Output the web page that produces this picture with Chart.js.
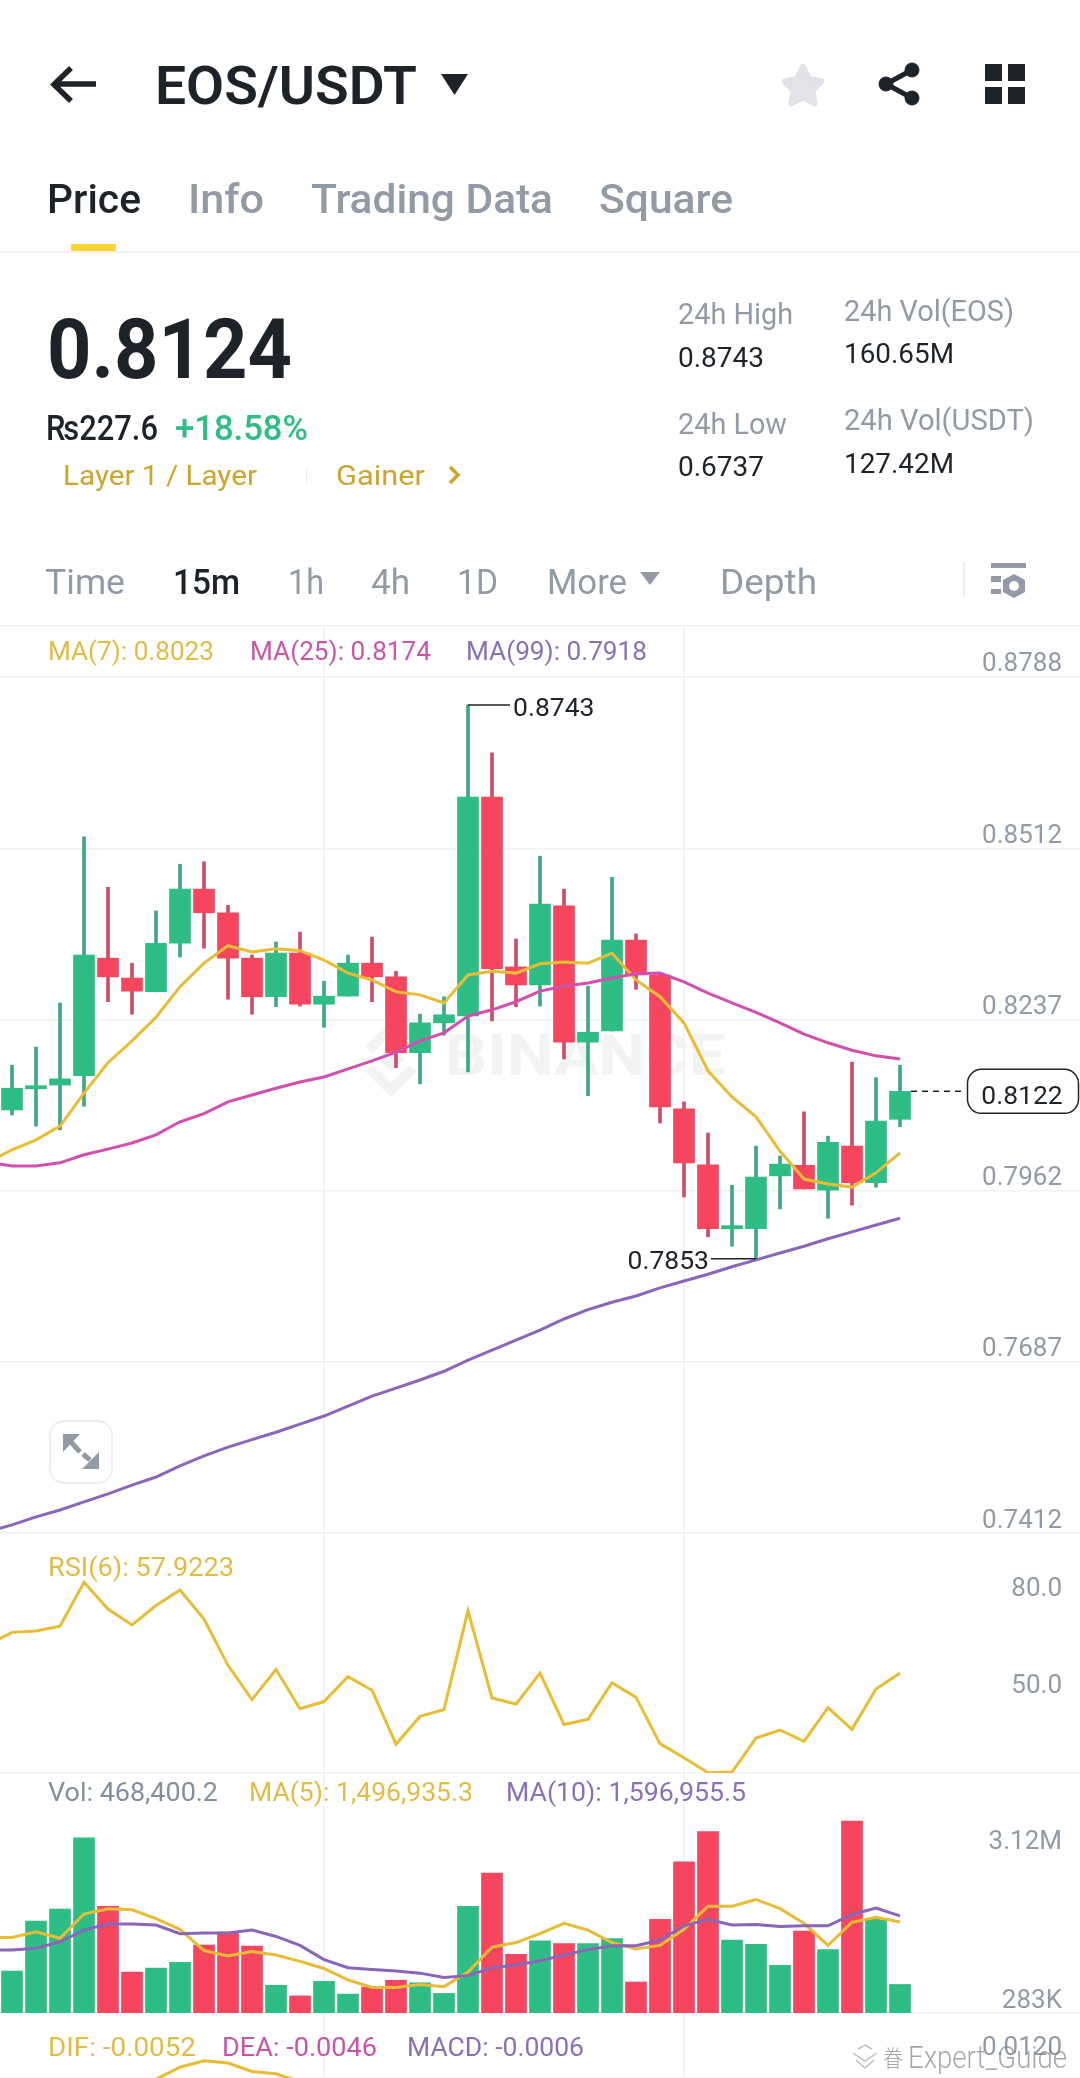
<!DOCTYPE html>
<html><head><meta charset="utf-8">
<script src="https://cdn.jsdelivr.net/npm/chart.js@4"></script>
<style>
html,body{margin:0;padding:0;background:#fff;}
#root{position:relative;isolation:isolate;width:1080px;height:2078px;overflow:hidden;background:#fff;font-family:Roboto,"Noto Sans",sans-serif;}
canvas{position:absolute;left:-24px;display:block;}
.t{position:absolute;white-space:nowrap;line-height:1;transform-origin:0 50%;}
svg{position:absolute;left:0;top:0;}
</style></head><body>
<div id="root">
<svg width="1080" height="2078" id="under">
  <g fill="#F2F3F4" transform="translate(391 1059) rotate(45)">
    <rect x="-9" y="-9" width="18" height="18"/>
    <path d="M-27 -27H9V-17H-17V9H-27Z"/>
    <path d="M27 27H-9V17H17V-9H27Z"/>
  </g>
</svg>
<canvas id="cPrice" style="top:626px" width="1104" height="909"></canvas>
<canvas id="cRsi" style="top:1533px" width="1104" height="242"></canvas>
<canvas id="cVol" style="top:1773px" width="1104" height="242"></canvas>
<canvas id="cMacd" style="top:2013px" width="1104" height="65"></canvas>
<svg width="1080" height="2078" id="over">
  <path d="M96 84H56M71 68L54 84.500L71 101" fill="none" stroke="#1E2329" stroke-width="5.500"/>
  <path d="M441 74H468L454.500 95Z" fill="#1E2329"/>
  <path d="M803 66L809.500 78.500L822 81L813 91L815 104L803 98L791 104L793 91L784 81L796.500 78.500Z" fill="#E1E3E8" stroke="#E1E3E8" stroke-width="5" stroke-linejoin="round"/>
  <g fill="#1E2329" stroke="#1E2329"><circle cx="912" cy="70" r="7"/><circle cx="886" cy="84" r="7"/><circle cx="912" cy="98" r="7"/><path d="M912 70L886 84L912 98" fill="none" stroke-width="5"/></g>
  <g fill="#1E2329"><rect x="985" y="64" width="17" height="17"/><rect x="1008" y="64" width="17" height="17"/><rect x="985" y="87" width="17" height="17"/><rect x="1008" y="87" width="17" height="17"/></g>
  <rect x="71" y="244" width="45" height="8" fill="#FCD535"/>
  <rect x="0" y="251" width="1080" height="2" fill="#EEF0F2"/>
  <path d="M450 467L458 475L450 483" fill="none" stroke="#CDA52C" stroke-width="3.500"/>
  <rect x="306" y="468" width="1" height="14" fill="#E6E8EA"/>
  <path d="M640 572H660L650 585Z" fill="#929AA5"/>
  <rect x="963" y="562" width="2" height="35" fill="#ECEEF0"/>
  <g fill="#929AA5"><rect x="991" y="563" width="35" height="5"/><rect x="991" y="576" width="10" height="6"/><rect x="991" y="589" width="10" height="5"/>
    <path fill-rule="evenodd" d="M1014 574L1025 580V592L1014 598L1003 592V580ZM1014 581A5 5 0 1 0 1014 591A5 5 0 1 0 1014 581Z"/></g>
  <rect x="0" y="625" width="1080" height="1.500" fill="#EEF0F2"/>
  <rect x="50" y="1421" width="62" height="62" rx="14" fill="#fff" stroke="#ECEDEF" stroke-width="2"/>
  <g fill="#929AA5"><path d="M63 1434H80L63 1452Z"/><path d="M99 1469H82L99 1452Z"/></g>
  <path d="M71 1442L80 1452M90 1460L83 1454" stroke="#929AA5" stroke-width="5" fill="none"/>
  <g fill="none" stroke="#BDBDBD" stroke-width="1.500"><path d="M853 2053L865 2061L877 2053M858 2049L865 2045L872 2049M856 2060L865 2068L874 2060"/></g>
</svg>
<div id="texts"></div>
</div>
<script>
// ---- chart data ----
const slots = Array.from({length:46},(_,i)=>i-1);   // -1 is the candle just off the left edge
const opens  = [.8092,.8126,.8132,.8147,.8336,.8304,.8282,.8360,.8447,.8409,.8336,.8274,.8344,.8262,.8275,.8328,.8306,.8184,.8232,.8243,.8595,.8322,.8293,.8420,.8201,.8219,.8365,.8309,.8094,.8004,.7901,.7901,.7986,.8003,.7963,.8034,.7975,.8077];
const highs  = [.8164,.8193,.8264,.8531,.8450,.8328,.8412,.8487,.8491,.8421,.8341,.8362,.8378,.8299,.8341,.8370,.8315,.8246,.8274,.8743,.8666,.8367,.8500,.8447,.8291,.8466,.8375,.8312,.8105,.8055,.7971,.8034,.8018,.8089,.8050,.8169,.8144,.8164];
const lows   = [.8084,.8066,.8060,.8098,.8266,.8246,.8282,.8338,.8352,.8270,.8246,.8258,.8259,.8225,.8275,.8266,.8160,.8134,.8212,.8153,.8235,.8258,.8259,.8174,.8115,.8219,.8286,.8071,.7952,.7888,.7873,.7853,.7933,.7965,.7918,.7939,.7968,.8065];
const closes = [.8127,.8131,.8142,.8341,.8306,.8283,.8360,.8447,.8409,.8336,.8274,.8344,.8262,.8275,.8328,.8306,.8184,.8232,.8245,.8595,.8319,.8293,.8423,.8201,.8217,.8365,.8309,.8097,.8007,.7901,.7906,.7984,.8005,.7965,.8040,.7975,.8074,.8122];
const ma7  = [.8008,.8028,.8044,.8066,.8119,.8168,.8203,.8241,.8290,.8328,.8356,.8346,.8351,.8348,.8333,.8312,.8301,.8282,.8277,.8264,.8309,.8315,.8312,.8327,.8330,.8328,.8344,.8301,.8274,.8232,.8155,.8113,.8081,.8026,.7981,.7973,.7968,.7991,.8023];
const ma25 = [.8008,.8002,.8002,.8007,.8020,.8029,.8039,.8052,.8073,.8086,.8105,.8116,.8127,.8137,.8145,.8158,.8171,.8185,.8203,.8216,.8243,.8253,.8266,.8283,.8291,.8296,.8304,.8311,.8312,.8298,.8280,.8264,.8249,.8232,.8214,.8200,.8188,.8179,.8174];
const ma99 = [.7414,.7425,.7438,.7449,.7462,.7475,.7489,.7502,.7520,.7536,.7550,.7562,.7574,.7587,.7600,.7616,.7632,.7645,.7658,.7672,.7690,.7706,.7722,.7738,.7756,.7771,.7783,.7793,.7806,.7817,.7828,.7840,.7851,.7862,.7873,.7885,.7896,.7907,.7918];
const rsi6 = [66.7,70.5,70.9,72.4,86.0,77.7,72.8,78.8,83.6,74.6,60.3,49.7,59.0,46.9,49.1,56.8,52.6,35.9,44.5,46.6,77.2,50.2,48.3,57.9,42.0,43.6,54.9,50.4,36.1,31.7,27.1,27.3,37.8,40.3,36.8,47.2,40.5,53.0,57.9223];
const volumes = [690000,1509000,1708000,2878000,1755000,673000,737000,831000,1117000,1328000,1100000,456000,281000,521000,310000,427000,538000,497000,322000,1755000,2299000,965000,1187000,1141000,1141000,1222000,509000,1538000,2486000,2983000,1199000,1129000,784000,1345000,1041000,3153000,1550000,468400];
const volMa5  = [1240000,1240000,1334000,1228000,1626000,1714000,1696000,1550000,1375000,1024000,936000,1012000,953000,848000,731000,544000,421000,421000,468000,433000,673000,1082000,1158000,1304000,1474000,1363000,1158000,1053000,1111000,1375000,1755000,1755000,1866000,1714000,1474000,1111000,1491000,1573000,1496935];
const volMa10 = [1035000,1035000,1065000,1170000,1363000,1462000,1462000,1445000,1304000,1316000,1316000,1363000,1258000,1111000,877000,743000,714000,690000,655000,585000,614000,743000,790000,860000,953000,1041000,1105000,1105000,1199000,1433000,1538000,1445000,1456000,1421000,1433000,1433000,1620000,1725000,1596955];
const dif = [null,null,null,null,null,null,.0073,.0091,.0111,.0122,.0118,.0104,.0100,.0087,.0070];
const priceTicks = [.8788,.8512,.8237,.7962,.7687,.7412];
const rsiTicks = [80,50];
const macdTicks = [.0120];
const gridSlots = [13,28];
const lastPrice = .8122, highPrice = .8743, lowPrice = .7853, highSlot = 19, lowSlot = 31;

const GREEN='#2EBD85', RED='#F6465D', GREENW='#3DA883', REDW='#CE4E69';
const YEL='#E8BC35', PINK='#D24FB0', PUR='#8B66B8', GRID='#F0F1F3', TICK='#929AA5', DARK='#1E2329';
const pad = a => [null,...a];
const up = opens.map((o,i)=>closes[i]>=o);
const bodyCol = pad(up.map(u=>u?GREEN:RED));
const wickCol = pad(up.map(u=>u?GREENW:REDW));
const lineDs = (data,color,w=3,order=1,yAxisID='y') => ({type:'line',data,borderColor:color,borderWidth:w,pointRadius:0,tension:0,fill:false,order,yAxisID,spanGaps:false});

Chart.defaults.font.family='Roboto';
function xScale(){return {type:'category',offset:true,
  grid:{display:true,offset:false,color:GRID,lineWidth:1.5,drawTicks:false},
  border:{display:true,color:GRID,width:1.5},
  ticks:{display:false,autoSkip:false},
  afterBuildTicks:s=>{s.ticks=s.ticks.filter(t=>gridSlots.includes(s.getLabelForValue(t.value)));},
  afterFit:s=>{s.height=0;}};}
function yScale(min,max,ticks,fmt,off,showGrid){return {type:'linear',position:'right',min,max,
  grid:{display:showGrid,color:GRID,lineWidth:1.5,drawTicks:false},border:{display:false},
  ticks:{mirror:true,padding:-18,labelOffset:off,color:TICK,font:{size:26},callback:fmt},
  afterBuildTicks:s=>{s.ticks=ticks.map(v=>({value:v}));},
  afterFit:s=>{s.width=0;}};}
function build(id,datasets,yScales,bottom,plugins=[]){
  return new Chart(document.getElementById(id),{type:'bar',data:{labels:slots,datasets},
    plugins,
    options:{responsive:false,animation:false,devicePixelRatio:1,events:[],
      layout:{padding:{left:0,right:0,top:0,bottom}},
      plugins:{legend:{display:false},tooltip:{enabled:false}},
      scales:Object.assign({x:xScale()},yScales)}});
}

const pxPerUnit = 6221;
const priceLabels = {id:'priceLabels',afterDatasetsDraw(c){
  const g=c.ctx,x=c.scales.x,y=c.scales.y,dx=24;
  g.save();g.font='26.5px Roboto';g.fillStyle=DARK;g.strokeStyle=DARK;g.lineWidth=1.5;g.textBaseline='middle';
  const hx=x.getPixelForValue(highSlot+1),hy=y.getPixelForValue(highPrice);
  g.beginPath();g.moveTo(hx,hy);g.lineTo(510+dx,hy);g.stroke();
  g.textAlign='left';g.fillText(highPrice.toFixed(4),513+dx,hy+4);
  const lx=x.getPixelForValue(lowSlot+1),ly=y.getPixelForValue(lowPrice);
  g.beginPath();g.moveTo(lx,ly);g.lineTo(711+dx,ly);g.stroke();
  g.textAlign='right';g.fillText(lowPrice.toFixed(4),709+dx,ly+4);
  const py=y.getPixelForValue(lastPrice);
  g.setLineDash([6,5]);g.beginPath();g.moveTo(911+dx,py);g.lineTo(964+dx,py);g.stroke();g.setLineDash([]);
  g.beginPath();g.roundRect(967.5+dx,py-22,111,44,14);g.fillStyle='#fff';g.fill();g.stroke();
  g.fillStyle=DARK;g.textAlign='center';g.fillText(lastPrice.toFixed(4),1022+dx,py+6);
  g.restore();
}};

build('cPrice',[
  {data:pad(lows.map((l,i)=>[l,highs[i]])),backgroundColor:wickCol,barThickness:3,grouped:false,order:3,borderSkipped:false},
  {data:pad(opens.map((o,i)=>[o,closes[i]])),backgroundColor:bodyCol,barThickness:21,grouped:false,order:2,borderSkipped:false},
  lineDs(ma99,PUR),lineDs(ma25,PINK),lineDs(ma7,YEL)
],{y:yScale(.7412,.7412+907/pxPerUnit,priceTicks,v=>v.toFixed(4),-12,true)},2,[priceLabels]);

build('cRsi',[lineDs(rsi6,YEL)],{y:yScale(27,27+240/3.233,rsiTicks,v=>v.toFixed(1),-12,false)},2);

const volMax=240*16435;
const volFmt=v=>v>=1e6?(v/1e6).toFixed(2)+'M':Math.round(v/1e3)+'K';
build('cVol',[
  {data:pad(volumes),backgroundColor:bodyCol,barThickness:21,grouped:false,order:2},
  lineDs(volMa10,PUR),lineDs(volMa5,YEL)
],{y:yScale(0,volMax,[283000],volFmt,6,false),y2:yScale(0,volMax,[3120000],volFmt,19,false)},2);

build('cMacd',[lineDs(dif,YEL)],{y:yScale(.0093,.0202,macdTicks,v=>v.toFixed(4),-13,false)},0);

// ---- page text: [text, x, centre y, font size, colour, weight, width] ----
const G='#929AA5',D=DARK,Y2='#CDA52C',LY='#E0BC47',LP='#C955AA',LU='#8A70B5';
const texts=[
 ['EOS/USDT',155,86,53,D,600,262],
 ['Price',47,199,41,D,500,94],['Info',188,199,41,G,500,76],['Trading Data',311,199,41,G,500,242],['Square',599,199,41,G,500,134],
 ['0.8124',47,350,84,D,700,245],
 ['₨227.6',46,428,35,D,500,112],['+18.58%',175,428,35,GREEN,500,133],
 ['Layer 1 / Layer',63,476,28,Y2,400,194],['Gainer',336,476,28,Y2,400,89],
 ['24h High',678,314,29,G,400,115],['0.8743',678,358,28,D,400,86],
 ['24h Vol(EOS)',844,311,29,G,400,170],['160.65M',844,354,28,D,400,110],
 ['24h Low',678,424,29,G,400,109],['0.6737',678,467,28,D,400,86],
 ['24h Vol(USDT)',844,420,29,G,400,190],['127.42M',844,464,28,D,400,110],
 ['Time',45,582,35,G,400,80],['15m',173,582,35,D,500,67],['1h',288,582,35,G,400,36],['4h',371,582,35,G,400,39],['1D',457,582,35,G,400,41],['More',547,582,35,G,400,80],['Depth',720,582,35,G,400,97],
 ['MA(7): 0.8023',48,651,26,LY,400,166],['MA(25): 0.8174',250,651,26,LP,400,181],['MA(99): 0.7918',466,651,26,LU,400,181],
 ['RSI(6): 57.9223',48,1567,26,LY,400,186],
 ['Vol: 468,400.2',48,1792,26,'#848E9C',400,170],['MA(5): 1,496,935.3',249,1792,26,LY,400,224],['MA(10): 1,596,955.5',506,1792,26,LU,400,240],
 ['DIF: -0.0052',48,2047,26,LY,400,148],['DEA: -0.0046',222,2047,26,LP,400,155],['MACD: -0.0006',407,2047,26,LU,400,177],
 ['BINANCE',445,1055,57,'#F2F3F4',700,281,1],
 ['眷',883,2057,24,'rgba(130,130,130,.7)',300,20],['Expert_Guide',908,2057,31,'rgba(130,130,130,.7)',300,159]
];
const host=document.getElementById('texts');
texts.forEach(([s,x,cy,size,color,weight,w,under])=>{
  const e=document.createElement('span');e.className='t';e.textContent=s;
  e.style.cssText=`left:${x}px;top:${cy}px;font-size:${size}px;color:${color};font-weight:${weight};`+(under?'z-index:-1;':'z-index:5;');
  if(s==='₨227.6')e.style.fontFamily='Roboto,"DejaVu Sans",sans-serif';
  if(s==='眷')e.style.fontFamily='"Noto Sans CJK SC"';
  host.appendChild(e);
  const m=e.getBoundingClientRect().width;
  e.style.transform=`translateY(-50%) scaleX(${w/m})`;
});
</script>
</body></html>
